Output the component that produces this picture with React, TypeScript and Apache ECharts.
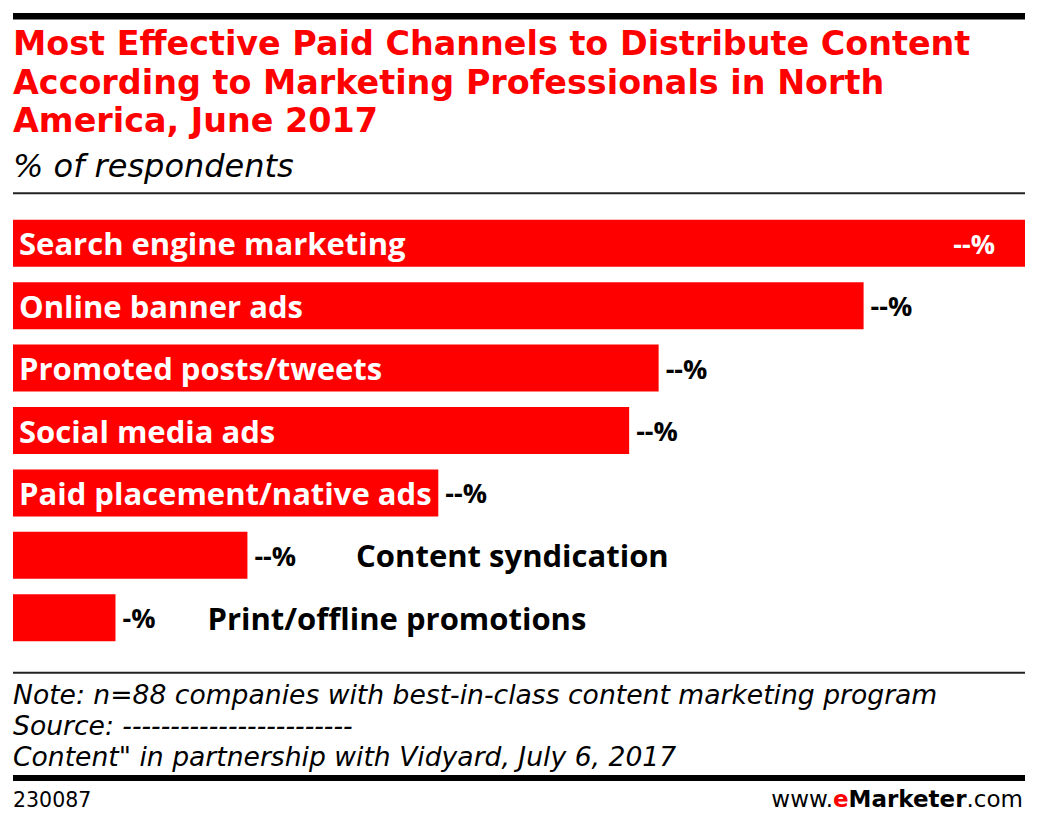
import React, { useEffect, useRef } from "react";
import * as echarts from "echarts";

const categories = [
  "Search engine marketing",
  "Online banner ads",
  "Promoted posts/tweets",
  "Social media ads",
  "Paid placement/native ads",
  "Content syndication",
  "Print/offline promotions",
];
const values = [79, 66.4, 50.4, 48.1, 33.2, 18.3, 8];

const titleLines = [
  "Most Effective Paid Channels to Distribute Content",
  "According to Marketing Professionals in North",
  "America, June 2017",
];
const subtitle = "% of respondents";
const noteLines = [
  "Note: n=88 companies with best-in-class content marketing program",
  "Source: ------------------------",
  "Content\" in partnership with Vidyard, July 6, 2017",
];
const chartId = "230087";

const RED = "#ff0000";
const BOLD = "'Open Sans', 'DejaVu Sans', sans-serif";
const TITLE_FONT = "'DejaVu Sans', sans-serif";

// values are masked in the source chart: digits shown as dashes
const mask = (v: number) => String(Math.round(v)).replace(/\d/g, "-") + "%";
const INSIDE_MIN = 30; // bars long enough to carry their category inside

export default function App() {
  const ref = useRef<HTMLDivElement>(null);
  useEffect(() => {
    if (!ref.current) return;
    const chart = echarts.init(ref.current, null, { renderer: "svg" });

    const valueData = values.map((v, i) => {
      if (i === 0) {
        return {
          value: v,
          label: {
            show: true,
            position: "insideRight",
            distance: 30,
            color: "#fff",
            formatter: () => mask(v),
          },
        };
      }
      if (v >= INSIDE_MIN) {
        return {
          value: v,
          label: {
            show: true,
            position: "right",
            distance: 7,
            color: "#000",
            formatter: () => mask(v),
          },
        };
      }
      const digits = String(Math.round(v)).length;
      return {
        value: v,
        label: {
          show: true,
          position: "right",
          distance: 7,
          color: "#000",
          formatter: () => `{v|${mask(v)}}{c|${categories[i]}}`,
          rich: {
            v: { fontFamily: BOLD, fontWeight: "bold", fontSize: 27, color: "#000" },
            c: {
              fontFamily: BOLD,
              fontWeight: "bold",
              fontSize: 31,
              color: "#000",
              padding: [0, 0, 0, 44 + 8 * digits],
            },
          },
        },
      };
    });

    const graphic: any[] = [
      { type: "rect", shape: { x: 13, y: 13, width: 1012, height: 6.5 }, style: { fill: "#000" } },
      ...titleLines.map((t, i) => ({
        type: "text",
        style: {
          text: t,
          x: 13,
          y: 43.6 + i * 38.5,
          fill: RED,
          fontFamily: TITLE_FONT,
          fontWeight: "bold",
          fontSize: 33.4,
          textAlign: "left",
          textVerticalAlign: "middle",
        },
      })),
      {
        type: "text",
        style: {
          text: subtitle,
          x: 13,
          y: 165.6,
          fill: "#000",
          fontFamily: TITLE_FONT,
          fontStyle: "italic",
          fontSize: 32,
          textAlign: "left",
          textVerticalAlign: "middle",
        },
      },
      { type: "rect", shape: { x: 13, y: 192.3, width: 1012, height: 2 }, style: { fill: "#222" } },
      { type: "rect", shape: { x: 13, y: 671.7, width: 1012, height: 2 }, style: { fill: "#222" } },
      ...noteLines.map((t, i) => ({
        type: "text",
        style: {
          text: t,
          x: 13,
          y: 694 + i * 31,
          fill: "#000",
          fontFamily: TITLE_FONT,
          fontStyle: "italic",
          fontSize: 26.6,
          textAlign: "left",
          textVerticalAlign: "middle",
        },
      })),
      { type: "rect", shape: { x: 13, y: 775, width: 1012, height: 6 }, style: { fill: "#000" } },
      {
        type: "text",
        style: {
          text: chartId,
          x: 13,
          y: 799.8,
          fill: "#000",
          fontFamily: TITLE_FONT,
          fontSize: 20.5,
          textAlign: "left",
          textVerticalAlign: "middle",
        },
      },
      {
        type: "text",
        style: {
          text: "{a|www.}{b|e}{c|Marketer}{a|.com}",
          x: 1023,
          y: 799,
          textAlign: "right",
          textVerticalAlign: "middle",
          rich: {
            a: { fontFamily: TITLE_FONT, fontSize: 23, fill: "#000", color: "#000" },
            b: { fontFamily: TITLE_FONT, fontSize: 23, fontWeight: "bold", fill: RED, color: RED },
            c: { fontFamily: TITLE_FONT, fontSize: 23, fontWeight: "bold", fill: "#000", color: "#000" },
          },
        },
      },
    ];

    chart.setOption({
      animation: false,
      backgroundColor: "#fff",
      grid: { left: 13, right: 13, top: 212, height: 437, containLabel: false },
      xAxis: {
        type: "value",
        min: 0,
        max: values[0],
        show: false,
      },
      yAxis: {
        type: "category",
        data: categories,
        inverse: true,
        show: false,
      },
      series: [
        {
          type: "bar",
          data: values,
          barWidth: 47,
          silent: true,
          itemStyle: { color: RED },
          label: {
            show: true,
            position: "insideLeft",
            distance: 6,
            color: "#fff",
            fontFamily: BOLD,
            fontWeight: "bold",
            fontSize: 31,
            formatter: (p: any) => (values[p.dataIndex] >= INSIDE_MIN ? p.name : ""),
          },
          z: 2,
        },
        {
          type: "bar",
          data: valueData,
          barWidth: 47,
          barGap: "-100%",
          silent: true,
          itemStyle: { color: "rgba(0,0,0,0)" },
          label: {
            fontFamily: BOLD,
            fontWeight: "bold",
            fontSize: 27,
          },
          z: 3,
        },
      ],
      graphic,
    });
    return () => chart.dispose();
  }, []);
  return (
    <div
      ref={ref}
      style={{ position: "fixed", left: 0, top: 0, width: 1038, height: 827, background: "#fff" }}
    />
  );
}
